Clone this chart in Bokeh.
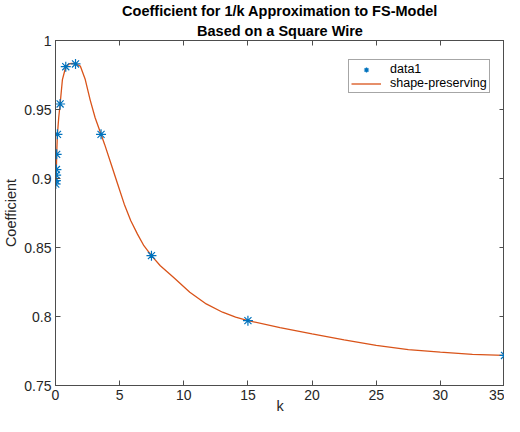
from bokeh.plotting import figure
from bokeh.models import LinearAxis, FixedTicker, Range1d, Title
from bokeh.embed import file_html
from bokeh.resources import INLINE

# measured points (k, coefficient)
k_data = [0.02, 0.03, 0.05, 0.07, 0.09, 0.15, 0.36, 0.8, 1.56, 3.55, 7.48, 15, 35]
coef_data = [0.896, 0.8985, 0.9025, 0.9065, 0.9175, 0.932, 0.954, 0.981,
             0.983, 0.932, 0.8441, 0.797, 0.7718]

# shape-preserving curve
k_curve = [0.02, 0.03, 0.05, 0.07, 0.09, 0.15, 0.25, 0.36, 0.54, 0.8, 1.1,
           1.3, 1.56, 1.94, 2.32, 2.7, 3.09, 3.55, 3.83, 4.34, 4.85, 5.36,
           5.87, 6.39, 6.89, 7.48, 8.17, 9.19, 10.47, 11.75, 13.02, 14.04,
           15.0, 17.5, 20, 22.5, 25, 27.5, 30, 32.5, 35]
coef_curve = [0.896, 0.8985, 0.9025, 0.9065, 0.9175, 0.932, 0.944, 0.954,
              0.9717, 0.981, 0.9832, 0.9835, 0.983, 0.9814, 0.9717, 0.957,
              0.944, 0.932, 0.9247, 0.9103, 0.8958, 0.8814, 0.8694, 0.8597,
              0.8513, 0.8441, 0.8368, 0.8284, 0.8176, 0.8091, 0.8031, 0.7995,
              0.797, 0.792, 0.7874, 0.783, 0.779, 0.776, 0.7742, 0.7725,
              0.7718]

x_ticks = [0, 5, 10, 15, 20, 25, 30, 35]
y_ticks = [0.75, 0.8, 0.85, 0.9, 0.95, 1.0]
title_lines = ["Coefficient for 1/k Approximation to FS-Model",
               "Based on a Square Wire"]

FONT = "Liberation Sans"
AX = "#4d4d4d"
TXT = "#262626"

p = figure(width=504, height=416, output_backend="svg", toolbar_location=None,
           x_range=Range1d(0, 35), y_range=Range1d(0.75, 1.0),
           x_axis_label="k", y_axis_label="Coefficient",
           min_border_left=0, min_border_right=0, min_border_top=0,
           min_border_bottom=0)

p.xgrid.visible = False
p.ygrid.visible = False
p.outline_line_color = AX
p.background_fill_color = "white"

p.line(k_curve, coef_curve, line_color="#D95319", line_width=1.3,
       legend_label="shape-preserving")
p.scatter(k_data, coef_data, marker="asterisk", size=10, line_color="#0072BD",
          line_width=1.2, legend_label="data1")

p.add_layout(LinearAxis(), "right")
p.add_layout(LinearAxis(), "above")

# two title lines, each centred; later ones sit higher
for i, txt in enumerate(reversed(title_lines)):
    p.add_layout(Title(text=txt, align="center", text_font=FONT,
                       text_font_size="14.5px", text_font_style="bold",
                       text_color="black", standoff=4 if i == 0 else 0,
                       offset=0), "above")

for ax in p.xaxis:
    ax.ticker = FixedTicker(ticks=x_ticks)
for ax in p.yaxis:
    ax.ticker = FixedTicker(ticks=y_ticks)

for ax in p.axis:
    ax.axis_line_color = AX
    ax.major_tick_line_color = AX
    ax.major_tick_in = 5
    ax.major_tick_out = 0
    ax.minor_tick_line_color = None
    ax.major_label_text_font = FONT
    ax.major_label_text_font_size = "14px"
    ax.major_label_text_color = TXT
    ax.major_label_standoff = 4
    ax.axis_label_text_font = FONT
    ax.axis_label_text_font_size = "14.5px"
    ax.axis_label_text_font_style = "normal"
    ax.axis_label_text_color = TXT
    ax.axis_label_standoff = 2

p.xaxis[1].major_label_standoff = 4
p.xaxis[1].axis_label_standoff = -5
# the box axes carry no labels
for ax in (p.above[0], p.right[0]):
    ax.major_label_text_color = None
    ax.major_label_text_font_size = "0px"
    ax.major_label_standoff = 0

leg = p.legend[0]
leg.items = list(reversed(leg.items))
leg.location = (293, 292)
leg.label_text_font = FONT
leg.label_text_font_size = "12.5px"
leg.label_text_color = "black"
leg.border_line_color = AX
leg.border_line_width = 1
leg.background_fill_color = "white"
leg.background_fill_alpha = 1
leg.glyph_width = 30
leg.glyph_height = 13
leg.label_height = 12
leg.label_standoff = 9
leg.spacing = 0
leg.padding = 2
leg.margin = 0

open("out.html", "w").write(file_html(p, INLINE))
